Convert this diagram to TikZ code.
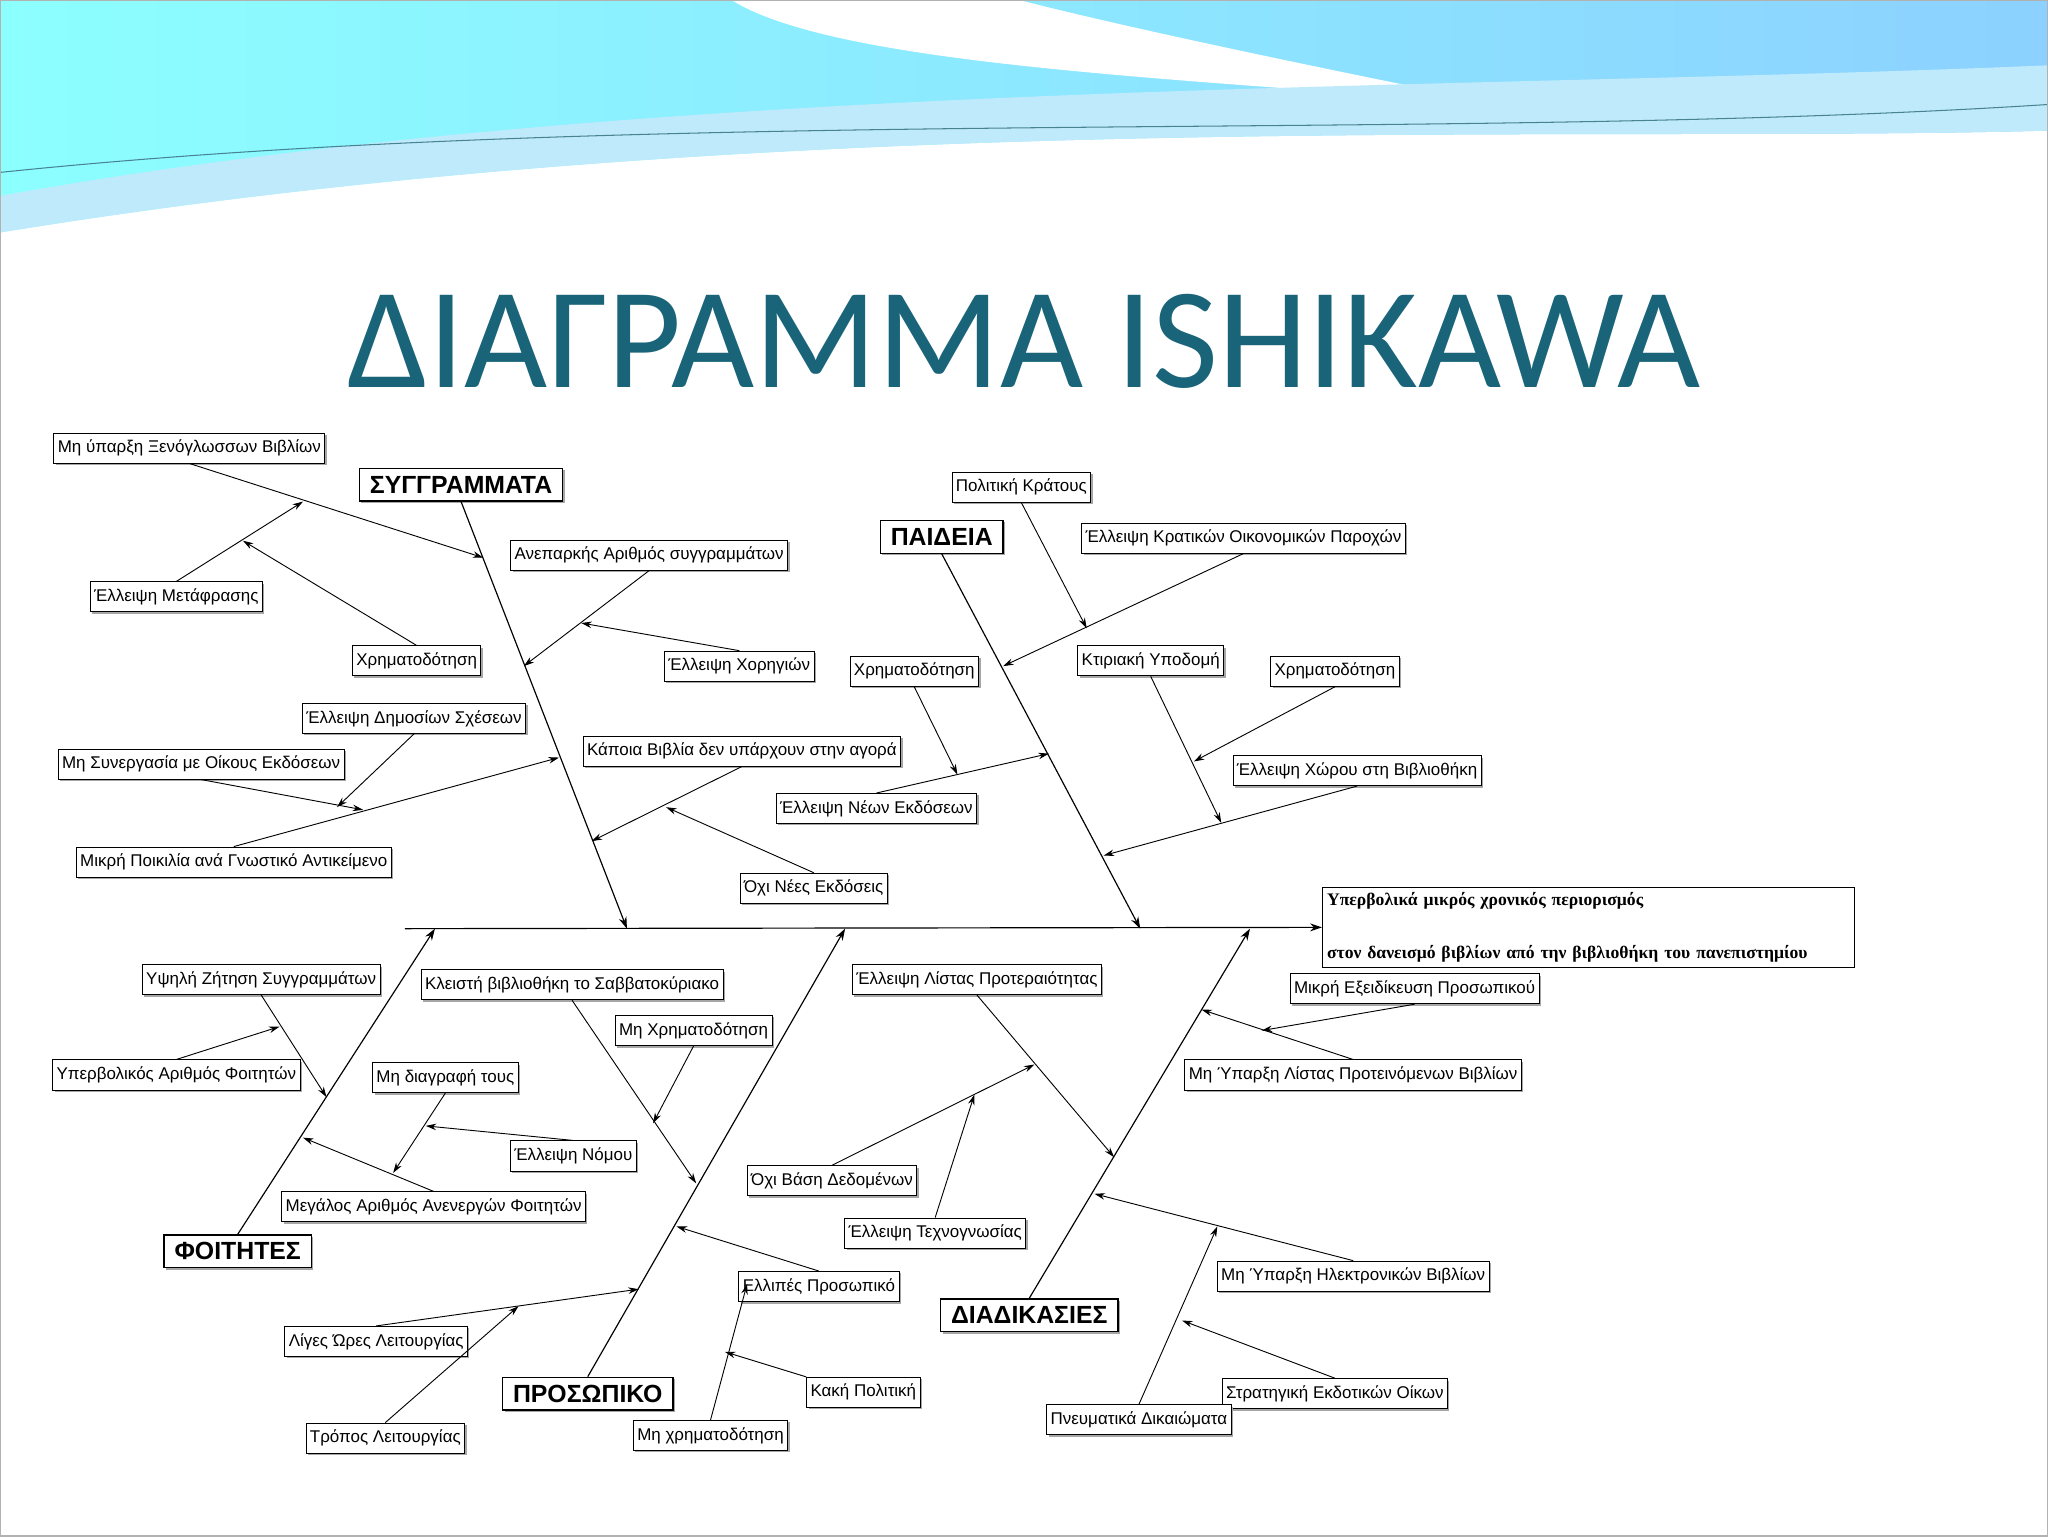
\documentclass[tikz,border=0pt]{standalone}
\usepackage{fontspec}
\setmainfont{Liberation Sans}
\newfontfamily\titlefont{Carlito}
\newfontfamily\efont{Liberation Serif}
\usetikzlibrary{arrows.meta,shadows}
\definecolor{titlec}{HTML}{1A6479}
\begin{document}
\begin{tikzpicture}[x=1pt,y=-1pt,
 bx/.style={draw=black,line width=0.7pt,fill=white,font=\fontsize{13}{14}\selectfont,inner sep=3pt,minimum height=23pt,
   drop shadow={shadow xshift=1.5pt,shadow yshift=-1.5pt,fill=gray!70,opacity=1}},
 cat/.style={draw=black,line width=1pt,fill=white,font=\fontsize{19}{20}\selectfont\bfseries,inner xsep=8pt,inner ysep=3pt,minimum height=25pt,
   drop shadow={shadow xshift=1.5pt,shadow yshift=-1.5pt,fill=gray!70,opacity=1}},
 ar/.style={draw=black,line width=0.7pt,-{Stealth[length=8pt,width=5pt]}},
 bone/.style={draw=black,line width=0.9pt,-{Stealth[length=9pt,width=6pt]}}]
\useasboundingbox (0,0) rectangle (1568,1176);
\fill[white] (0,0) rectangle (1568,1176);
% header
\shade[left color=cyan!45!white, right color=cyan!60!blue!45!white] (0,0) -- (1568,0) -- (1568,100) .. controls (1200,110) and (600,80) .. (0,178) -- cycle;
\fill[white] (560,0) .. controls (640,50) and (900,60) .. (1150,80) .. controls (900,30) and (820,10) .. (780,0) -- cycle;
\fill[cyan!25!white] (0,150) .. controls (500,60) and (1100,70) .. (1568,50) -- (1568,100) .. controls (1200,110) and (600,80) .. (0,178) -- cycle;
\draw[titlec!80,line width=0.8pt] (0,132) .. controls (500,80) and (1100,110) .. (1568,80);
\draw[gray!60,line width=1pt] (0,0) rectangle (1568,1176);
\node[anchor=base,text=titlec,font=\titlefont\fontsize{110}{116}\selectfont] (title) at (784,297) {ΔΙΑΓΡΑΜΜΑ ISHIKAWA};
% effect
\node[draw=black,line width=0.8pt,minimum width=407pt,minimum height=61pt,align=left,text width=400pt,inner sep=3pt,
  font=\efont\fontsize{13.5}{14}\selectfont\bfseries] (E) at (1216,710)
 {Υπερβολικά μικρός χρονικός περιορισμός\\[26pt]στον δανεισμό βιβλίων από την βιβλιοθήκη του πανεπιστημίου};
\coordinate (sp) at (310,711);
\draw[bone] (sp) -- (E.west);
% categories
\node[cat] (C1) at (353,371) {ΣΥΓΓΡΑΜΜΑΤΑ};
\node[cat] (C2) at (721,411) {ΠΑΙΔΕΙΑ};
\node[cat] (C3) at (182,958) {ΦΟΙΤΗΤΕΣ};
\node[cat] (C4) at (450,1067) {ΠΡΟΣΩΠΙΚΟ};
\node[cat] (C5) at (788,1007) {ΔΙΑΔΙΚΑΣΙΕΣ};
\coordinate (t1) at (480,711); \coordinate (t2) at (873,711);
\coordinate (t3) at (333,711); \coordinate (t4) at (647,711); \coordinate (t5) at (957,711);
\draw[bone] (C1.south) -- (t1);
\draw[bone] (C2.south) -- (t2);
\draw[bone] (C3.north) -- (t3);
\draw[bone] (C4.north) -- (t4);
\draw[bone] (C5.north) -- (t5);
% boxes
\node[bx] (s1) at (145,343) {Μη ύπαρξη Ξενόγλωσσων Βιβλίων};
\node[bx] (s2) at (135,457) {Έλλειψη Μετάφρασης};
\node[bx] (s3) at (319,506) {Χρηματοδότηση};
\node[bx] (s4) at (497,425) {Ανεπαρκής Αριθμός συγγραμμάτων};
\node[bx] (s5) at (566,510) {Έλλειψη Χορηγιών};
\node[bx] (s6) at (317,550) {Έλλειψη Δημοσίων Σχέσεων};
\node[bx] (s7) at (154,585) {Μη Συνεργασία με Οίκους Εκδόσεων};
\node[bx] (s8) at (179,660) {Μικρή Ποικιλία ανά Γνωστικό Αντικείμενο};
\node[bx] (s9) at (568,575) {Κάποια Βιβλία δεν υπάρχουν στην αγορά};
\node[bx] (s10) at (623,680) {Όχι Νέες Εκδόσεις};
\node[bx] (p1) at (782,373) {Πολιτική Κράτους};
\node[bx] (p2) at (952,412) {Έλλειψη Κρατικών Οικονομικών Παροχών};
\node[bx] (p3) at (700,514) {Χρηματοδότηση};
\node[bx] (p4) at (671,619) {Έλλειψη Νέων Εκδόσεων};
\node[bx] (p5) at (881,506) {Κτιριακή Υποδομή};
\node[bx] (p6) at (1022,514) {Χρηματοδότηση};
\node[bx] (p7) at (1039,590) {Έλλειψη Χώρου στη Βιβλιοθήκη};
\node[bx] (f1) at (200,750) {Υψηλή Ζήτηση Συγγραμμάτων};
\node[bx] (f2) at (135,823) {Υπερβολικός Αριθμός Φοιτητών};
\node[bx] (f3) at (341,825) {Μη διαγραφή τους};
\node[bx] (f4) at (439,885) {Έλλειψη Νόμου};
\node[bx] (f5) at (332,924) {Μεγάλος Αριθμός Ανενεργών Φοιτητών};
\node[bx] (r1) at (438,754) {Κλειστή βιβλιοθήκη το Σαββατοκύριακο};
\node[bx] (r2) at (531,789) {Μη Χρηματοδότηση};
\node[bx] (r3) at (627,985) {Ελλιπές Προσωπικό};
\node[bx] (r4) at (288,1027) {Λίγες Ώρες Λειτουργίας};
\node[bx] (r5) at (295,1101) {Τρόπος Λειτουργίας};
\node[bx] (r6) at (544,1099) {Μη χρηματοδότηση};
\node[bx] (r7) at (661,1066) {Κακή Πολιτική};
\node[bx] (d1) at (748,750) {Έλλειψη Λίστας Προτεραιότητας};
\node[bx] (d2) at (637,904) {Όχι Βάση Δεδομένων};
\node[bx] (d3) at (716,944) {Έλλειψη Τεχνογνωσίας};
\node[bx] (d4) at (1083,757) {Μικρή Εξειδίκευση Προσωπικού};
\node[bx] (d5) at (1036,823) {Μη Ύπαρξη Λίστας Προτεινόμενων Βιβλίων};
\node[bx] (d6) at (1036,977) {Μη Ύπαρξη Ηλεκτρονικών Βιβλίων};
\node[bx] (d7) at (1022,1067) {Στρατηγική Εκδοτικών Οίκων};
\node[bx] (d8) at (872,1087) {Πνευματικά Δικαιώματα};
% arrows
\draw[ar] (s1.south) -- (370,427);
\draw[ar] (s2.north) -- (232,384);
\draw[ar] (s3.north) -- (186,414);
\draw[ar] (s4.south) -- (401,510);
\draw[ar] (s5.north) -- (445,477);
\draw[ar] (s6.south) -- (258,618);
\draw[ar] (s7.south) -- (278,620);
\draw[ar] (s8.north) -- (428,580);
\draw[ar] (s9.south) -- (453,644);
\draw[ar] (s10.north) -- (510,618);
\draw[ar] (p1.south) -- (832,481);
\draw[ar] (p2.south) -- (768,510);
\draw[ar] (p3.south) -- (733,593);
\draw[ar] (p4.north) -- (803,577);
\draw[ar] (p5.south) -- (935,630);
\draw[ar] (p6.south) -- (914,583);
\draw[ar] (p7.south) -- (845,655);
\draw[ar] (f1.south) -- (250,840);
\draw[ar] (f2.north) -- (214,786);
\draw[ar] (f3.south) -- (301,898);
\draw[ar] (f4.north) -- (326,862);
\draw[ar] (f5.north) -- (232,871);
\draw[ar] (r1.south) -- (533,906);
\draw[ar] (r2.south) -- (500,860);
\draw[ar] (r3.north) -- (518,939);
\draw[ar] (r4.north) -- (489,987);
\draw[ar] (r5.north) -- (397,1000);
\draw[ar] (r6.north) -- (572,983);
\draw[ar] (r7.north west) -- (555,1035);
\draw[ar] (d1.south) -- (853,886);
\draw[ar] (d2.north) -- (792,815);
\draw[ar] (d3.north) -- (746,838);
\draw[ar] (d4.south) -- (966,789);
\draw[ar] (d5.north) -- (920,773);
\draw[ar] (d6.north) -- (838,914);
\draw[ar] (d7.north) -- (905,1011);
\draw[ar] (d8.north) -- (932,939);
\end{tikzpicture}
\end{document}
